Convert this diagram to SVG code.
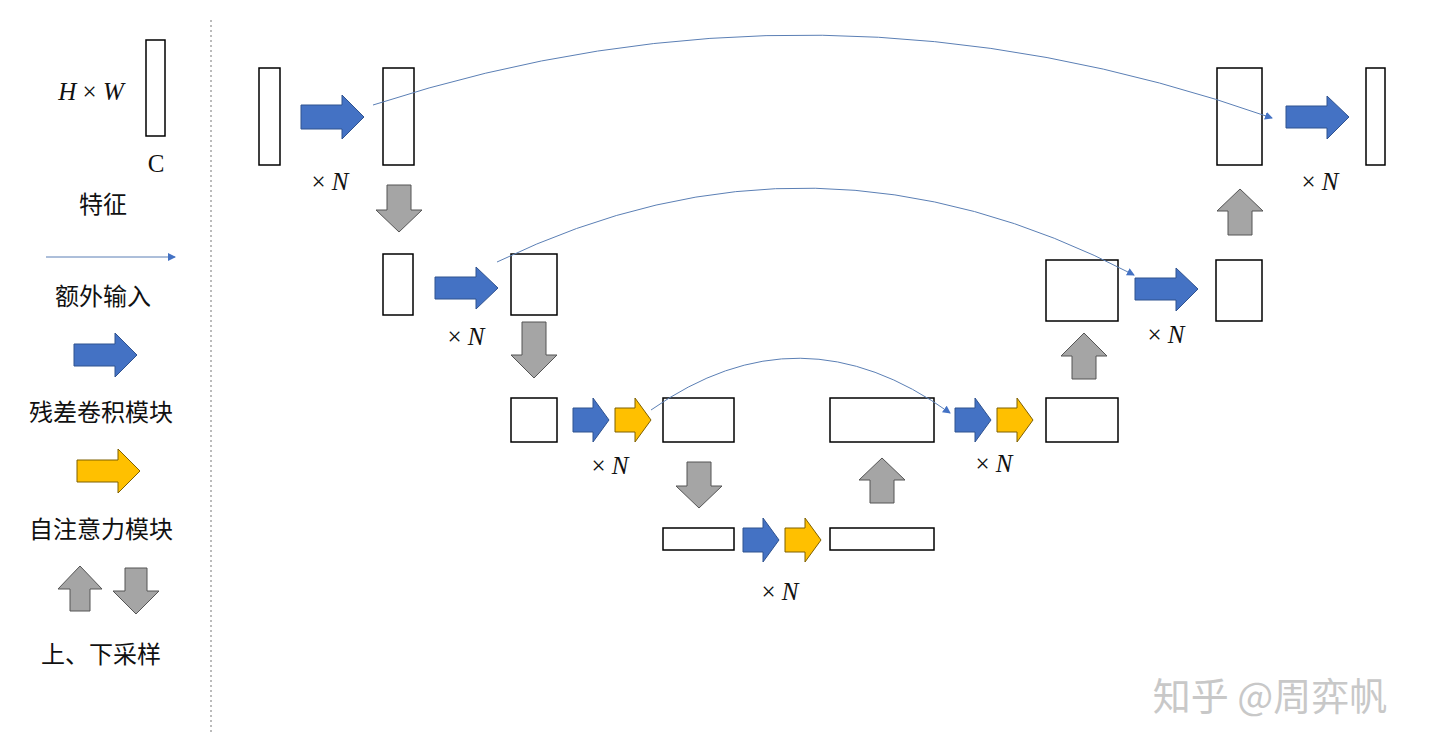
<svg xmlns="http://www.w3.org/2000/svg" width="1440" height="754" viewBox="0 0 1440 754">
<style>
.r{fill:#fff;stroke:#000;stroke-width:1.5}
.b{fill:#4472c4;stroke:#2f528f;stroke-width:1}
.y{fill:#ffc000;stroke:#7f6000;stroke-width:1}
.g{fill:#a5a5a5;stroke:#555;stroke-width:1}
.c{fill:none;stroke:#5b7fb5;stroke-width:1}
.t{font-family:"Noto Sans CJK SC","Noto Sans",sans-serif;font-size:24px;fill:#111;text-anchor:middle}
.m{font-family:"Liberation Serif",serif;font-size:25px;fill:#111;text-anchor:middle}
</style>
<defs><marker id="a" markerWidth="8" markerHeight="8" refX="7" refY="4" orient="auto" markerUnits="userSpaceOnUse"><path d="M0,0 L8,4 L0,8 Z" fill="#4472c4"/></marker></defs>
<rect width="1440" height="754" fill="#fff"/>
<line x1="211" y1="20" x2="211" y2="735" stroke="#777" stroke-width="1" stroke-dasharray="2,3"/>
<g id="legend">
<text class="m" x="91" y="100"><tspan font-style="italic">H</tspan> × <tspan font-style="italic">W</tspan></text>
<rect class="r" x="146" y="40" width="19" height="96"/>
<text class="m" x="156" y="172">C</text>
<text class="t" x="103" y="213">特征</text>
<line x1="46" y1="257" x2="175" y2="257" class="c" marker-end="url(#a)"/>
<text class="t" x="103" y="305">额外输入</text>
<path class="b" d="M74,344 H115 V333 L137,355 L115,377 V366 H74 Z"/>
<text class="t" x="101" y="421">残差卷积模块</text>
<path class="y" d="M77,460 H118 V449 L140,471 L118,493 V482 H77 Z"/>
<text class="t" x="101" y="538">自注意力模块</text>
<path class="g" d="M70,611 V589 H58 L80,566 L102,589 H90 V611 Z"/>
<path class="g" d="M125,568 H147 V591 H159 L136,614 L113,591 H125 Z"/>
<text class="t" x="101" y="663">上、下采样</text>
</g>
<g id="features">
<rect class="r" x="259" y="68" width="21" height="97"/>
<rect class="r" x="383" y="68" width="31" height="97"/>
<rect class="r" x="1217" y="68" width="45" height="97"/>
<rect class="r" x="1366" y="68" width="19" height="97"/>
<rect class="r" x="383" y="254" width="30" height="61"/>
<rect class="r" x="511" y="254" width="46" height="61"/>
<rect class="r" x="1046" y="260" width="72" height="61"/>
<rect class="r" x="1216" y="260" width="46" height="61"/>
<rect class="r" x="511" y="398" width="46" height="44"/>
<rect class="r" x="663" y="398" width="71" height="44"/>
<rect class="r" x="830" y="398" width="104" height="44"/>
<rect class="r" x="1046" y="398" width="72" height="44"/>
<rect class="r" x="663" y="528" width="71" height="22"/>
<rect class="r" x="830" y="528" width="104" height="22"/>
</g>
<g id="blocks">
<path class="b" d="M301,105 H342 V95 L364,117 L342,139 V129 H301 Z"/>
<path class="b" d="M435,277 H476 V267 L498,288 L476,309 V299 H435 Z"/>
<path class="b" d="M1135,278 H1176 V268 L1198,289 L1176,311 V300 H1135 Z"/>
<path class="b" d="M1286,106 H1327 V96 L1349,117 L1327,139 V128 H1286 Z"/>
<path class="b" d="M573,408 H593 V398 L609,420 L593,442 V432 H573 Z"/>
<path class="y" d="M615,408 H635 V398 L651,420 L635,442 V432 H615 Z"/>
<path class="b" d="M955,408 H975 V398 L991,420 L975,442 V432 H955 Z"/>
<path class="y" d="M997,408 H1017 V398 L1033,420 L1017,442 V432 H997 Z"/>
<path class="b" d="M743,528 H763 V518 L779,540 L763,562 V552 H743 Z"/>
<path class="y" d="M785,528 H805 V518 L821,540 L805,562 V552 H785 Z"/>
<path class="g" d="M387,185 H411 V210 H422 L399,232 L376,210 H387 Z"/>
<path class="g" d="M522,322 H546 V355 H557 L534,378 L511,355 H522 Z"/>
<path class="g" d="M687,462 H711 V486 H722 L699,508 L676,486 H687 Z"/>
<path class="g" d="M1228,235 V211 H1217 L1240,189 L1263,211 H1252 V235 Z"/>
<path class="g" d="M1072,379 V356 H1061 L1084,333 L1107,356 H1096 V379 Z"/>
<path class="g" d="M870,503 V480 H859 L882,458 L905,480 H894 V503 Z"/>
</g>
<g id="connectors">
<path class="c" d="M373,105 Q822,-41 1272,118" marker-end="url(#a)"/>
<path class="c" d="M497,262 Q815,108 1134,275" marker-end="url(#a)"/>
<path class="c" d="M651,410 Q800,305 950,413" marker-end="url(#a)"/>
</g>
<g id="labels">
<text class="m" x="330" y="190">× <tspan font-style="italic">N</tspan></text>
<text class="m" x="466" y="345">× <tspan font-style="italic">N</tspan></text>
<text class="m" x="610" y="474">× <tspan font-style="italic">N</tspan></text>
<text class="m" x="1320" y="190">× <tspan font-style="italic">N</tspan></text>
<text class="m" x="1166" y="343">× <tspan font-style="italic">N</tspan></text>
<text class="m" x="994" y="472">× <tspan font-style="italic">N</tspan></text>
<text class="m" x="780" y="600">× <tspan font-style="italic">N</tspan></text>
</g>
<text x="1270" y="710" font-family="Noto Sans CJK SC,sans-serif" font-size="38" fill="#c8c8c8" text-anchor="middle">知乎 @周弈帆</text>
</svg>
